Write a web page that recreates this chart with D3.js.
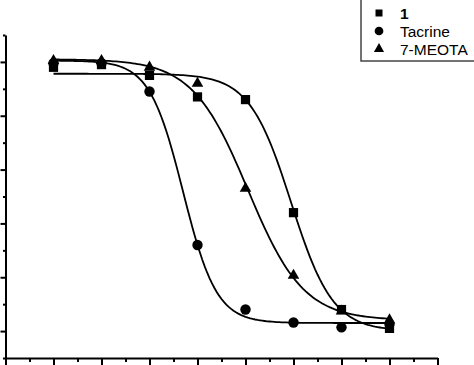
<!DOCTYPE html>
<html>
<head>
<meta charset="utf-8">
<script src="https://cdn.jsdelivr.net/npm/d3@7"></script>
<style>
  html, body { margin: 0; padding: 0; background: #fff; }
  svg { display: block; }
</style>
</head>
<body>
<div id="chart"></div>
<script>
// x positions are log-concentration steps (no labels shown in the original)
const doses = [1, 2, 3, 4, 5, 6, 7, 8];

// % activity
const compound1 = [98, 99, 95, 87, 86, 44, 8, 1];
const tacrine = [99.5, 99.5, 89, 32, 8, 3.2, 1.4, 2.6];
const meota = [100.5, 100.5, 98, 92, 53, 20.7, 7.4, 4.1];

const seriesNames = ["1", "Tacrine", "7-MEOTA"];
const seriesData = [compound1, tacrine, meota];
const seriesSymbols = [d3.symbolSquare, d3.symbolCircle, d3.symbolTriangle];

// sigmoid fit parameters for each series (top, bottom, midpoint, slope)
const fitTop = [95.6, 100.5, 101];
const fitBottom = [0, 3, 4];
const fitMid = [5.95, 3.7, 5.05];
const fitSlope = [1.0, 1.245, 0.75];

const width = 474, height = 365;

const x = d3.scaleLinear().domain([0, 9]).range([5.5, 437.5]);
const y = d3.scaleLinear().domain([-10, 110]).range([358, 35]);

const svg = d3.select("#chart")
  .append("svg")
  .attr("width", width)
  .attr("height", height);

// axes
const xMajor = d3.axisBottom(x).tickValues(d3.range(0, 10, 1)).tickSize(8).tickSizeOuter(0).tickFormat("");
const xMinor = d3.axisBottom(x).tickValues(d3.range(0.5, 9, 1)).tickSize(4).tickSizeOuter(0).tickFormat("");
const yMajor = d3.axisLeft(y).tickValues(d3.range(0, 101, 20)).tickSize(5).tickSizeOuter(0).tickFormat("");
const yMinor = d3.axisLeft(y).tickValues(d3.range(-10, 111, 20)).tickSize(2.5).tickSizeOuter(0).tickFormat("");

function styleAxis(g) {
  g.selectAll("path, line").attr("stroke", "#000").attr("stroke-width", 2);
}

svg.append("g").attr("transform", `translate(0,${y(-10)})`).call(xMajor).call(styleAxis);
svg.append("g").attr("transform", `translate(0,${y(-10)})`).call(xMinor).call(styleAxis)
  .select(".domain").remove();
svg.append("g").attr("transform", `translate(${x(0)},0)`).call(yMajor).call(styleAxis);
svg.append("g").attr("transform", `translate(${x(0)},0)`).call(yMinor).call(styleAxis)
  .select(".domain").remove();

// fitted curves
const line = d3.line().x(d => x(d[0])).y(d => y(d[1])).curve(d3.curveLinear);
const steps = d3.range(1, 8.001, 0.05);

seriesData.forEach((vals, i) => {
  const pts = steps.map(t => [t, fitBottom[i] + (fitTop[i] - fitBottom[i]) / (1 + Math.pow(10, (t - fitMid[i]) * fitSlope[i]))]);
  svg.append("path")
    .datum(pts)
    .attr("d", line)
    .attr("fill", "none")
    .attr("stroke", "#000")
    .attr("stroke-width", 1.8);
});

// markers: circles first, then triangles, squares on top
const drawOrder = [1, 2, 0];
const markerSize = [85, 85, 58];
drawOrder.forEach(i => {
  svg.append("g")
    .selectAll("path")
    .data(seriesData[i].map((v, k) => [doses[k], v]))
    .join("path")
    .attr("transform", d => `translate(${x(d[0])},${y(d[1])})`)
    .attr("d", d3.symbol().type(seriesSymbols[i]).size(markerSize[i]))
    .attr("fill", "#000");
});

// legend
const legend = svg.append("g");
legend.append("rect")
  .attr("x", 361).attr("y", -5)
  .attr("width", 130).attr("height", 66)
  .attr("fill", "#fff")
  .attr("stroke", "#444")
  .attr("stroke-width", 1.5);

const legendSize = [49, 60, 45];
seriesNames.forEach((name, i) => {
  const cy = 13 + i * 18;
  legend.append("path")
    .attr("transform", `translate(379,${cy})`)
    .attr("d", d3.symbol().type(seriesSymbols[i]).size(legendSize[i]))
    .attr("fill", "#000");
  legend.append("text")
    .attr("x", 400)
    .attr("y", cy + 5.5)
    .attr("font-family", "Liberation Sans, Arial, sans-serif")
    .attr("font-size", 15.5)
    .attr("font-weight", i === 0 ? "bold" : "normal")
    .attr("fill", "#000")
    .text(name);
});
</script>
</body>
</html>
